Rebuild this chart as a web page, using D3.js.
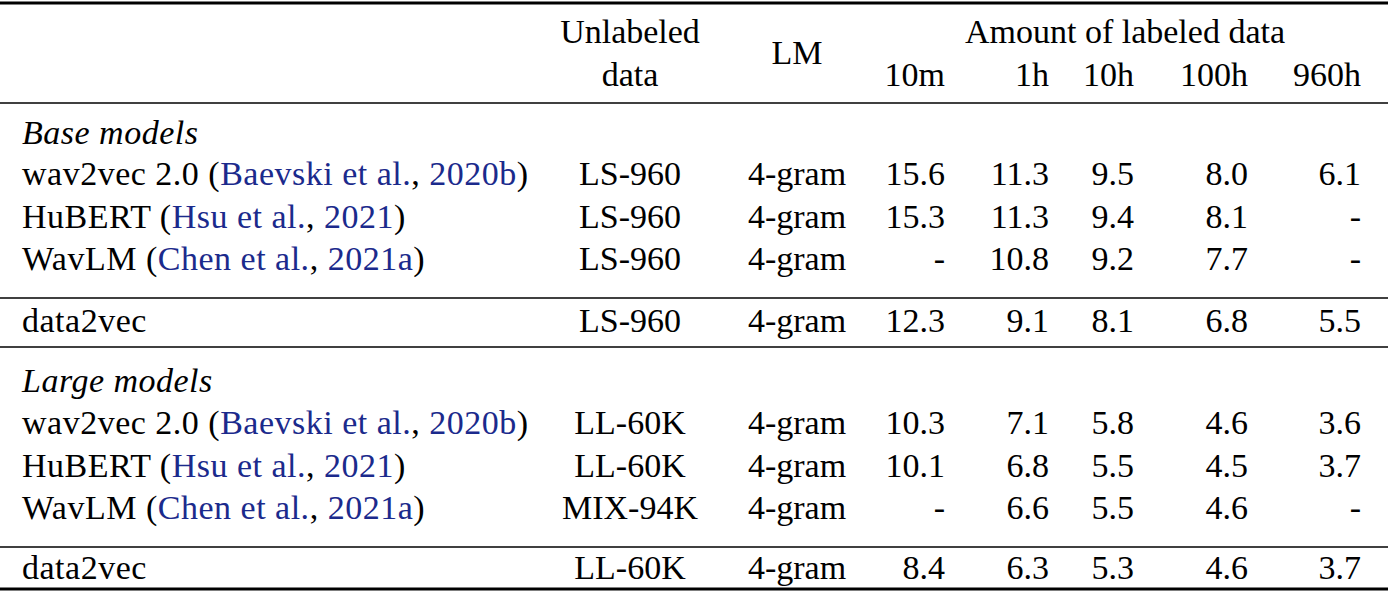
<!DOCTYPE html>
<html><head><meta charset="utf-8">
<script src="https://cdn.jsdelivr.net/npm/d3@7"></script>
<style>body{margin:0;background:#fff}svg{display:block}</style></head>
<body><svg id="c" width="1388" height="593"></svg>
<script>
const cols = ["10m","1h","10h","100h","960h"];
const groups = ["Base models","Large models"];
const models = ["wav2vec 2.0","HuBERT","WavLM"];
const cites = [["Baevski et al.","2020b"],["Hsu et al.","2021"],["Chen et al.","2021a"]];
const baseUnl = ["LS-960","LS-960","LS-960"];
const largeUnl = ["LL-60K","LL-60K","MIX-94K"];
const baseVals = [["15.6","11.3","9.5","8.0","6.1"],["15.3","11.3","9.4","8.1","-"],["-","10.8","9.2","7.7","-"]];
const baseOurs = ["12.3","9.1","8.1","6.8","5.5"];
const largeVals = [["10.3","7.1","5.8","4.6","3.6"],["10.1","6.8","5.5","4.5","3.7"],["-","6.6","5.5","4.6","-"]];
const largeOurs = ["8.4","6.3","5.3","4.6","3.7"];

const svg = d3.select("#c");
const F = "'Liberation Serif','Times New Roman',serif", FS = 34, BLUE = "#1b2a8c";
const colRight = d3.scaleOrdinal().domain(cols).range([945,1049,1134,1248,1361]);
function txt(x,y,s,anchor="start",style="normal"){
  return svg.append("text").attr("x",x).attr("y",y).attr("text-anchor",anchor)
    .attr("font-family",F).attr("font-size",FS).attr("font-style",style)
    .attr("letter-spacing",anchor==="start"?0.5:0).attr("fill","#000").text(s);
}
function rule(y,w){svg.append("line").attr("x1",0).attr("x2",1388).attr("y1",y).attr("y2",y).attr("stroke","#000").attr("stroke-width",w);}
rule(3,3); rule(103,1.5); rule(298,1.5); rule(347,1.5); rule(547,1.5); rule(589,3);
const off = 11;
txt(630,32+off,"Unlabeled","middle"); txt(630,75+off,"data","middle");
txt(797,53+off,"LM","middle");
txt(1125,32+off,"Amount of labeled data","middle");
cols.forEach(c=>txt(colRight(c),75+off,c,"end"));

function modelRow(y,i,unl,vals){
  const t = txt(22,y+off,"");
  t.append("tspan").text(models[i]+" (");
  t.append("tspan").attr("fill",BLUE).text(cites[i][0]);
  t.append("tspan").text(", ");
  t.append("tspan").attr("fill",BLUE).text(cites[i][1]);
  t.append("tspan").text(")");
  txt(630,y+off,unl,"middle"); txt(797,y+off,"4-gram","middle");
  vals.forEach((v,j)=>txt(colRight(cols[j]),y+off,v,"end"));
}
function oursRow(y,unl,vals){
  txt(22,y+off,"data2vec"); txt(630,y+off,unl,"middle"); txt(797,y+off,"4-gram","middle");
  vals.forEach((v,j)=>txt(colRight(cols[j]),y+off,v,"end"));
}
txt(22,133+off,groups[0],"start","italic");
[174,217,259].forEach((y,i)=>modelRow(y,i,baseUnl[i],baseVals[i]));
oursRow(321,"LS-960",baseOurs);
txt(22,381+off,groups[1],"start","italic");
[423,466,508].forEach((y,i)=>modelRow(y,i,largeUnl[i],largeVals[i]));
oursRow(568,"LL-60K",largeOurs);
</script></body></html>
